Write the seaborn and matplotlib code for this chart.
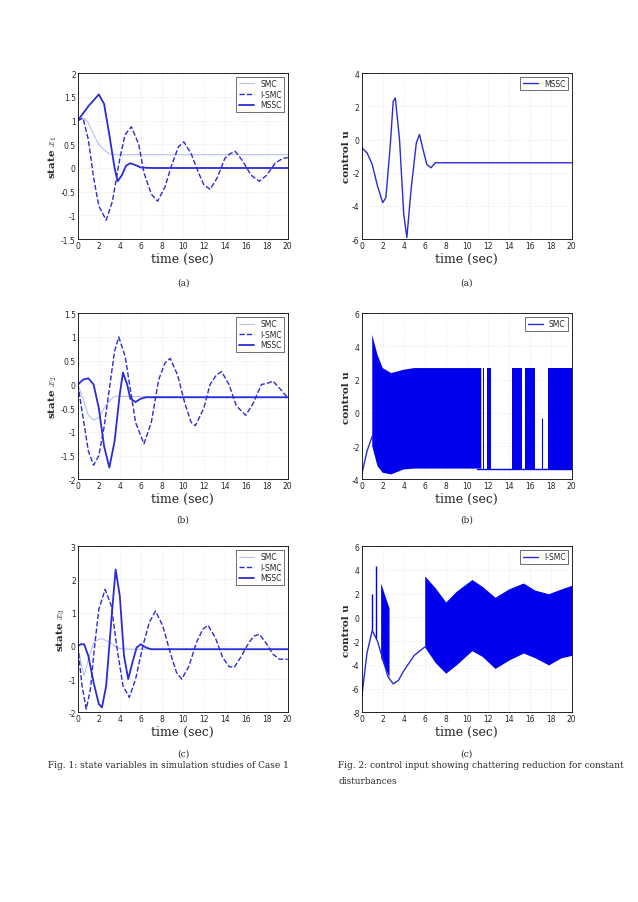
import numpy as np
import matplotlib
matplotlib.use("Agg")
import matplotlib.pyplot as plt
from matplotlib.ticker import FuncFormatter
import seaborn as sns

sns.set_theme(style="white")
plt.rcParams['font.family'] = ['DejaVu Sans']
plt.rcParams['mathtext.fontset'] = 'cm'

BLUE = "#2b2bd6"
LIGHT = "#b8c0ee"

# ---- state x1 ----
x1_mssc_t = [0,1,2,2.5,3,3.5,3.8,4.2,4.6,5,5.5,6,7,20]
x1_mssc_v = [1,1.3,1.55,1.35,0.7,0.0,-0.28,-0.15,0.05,0.1,0.06,0.01,0,0]
x1_ismc_t = [0,0.5,1,1.5,2,2.7,3.3,4,4.5,5.1,5.8,6.3,7,7.6,8.3,9,9.6,10.1,10.8,11.5,12,12.6,13.3,14,14.5,15,15.7,16.5,17.3,18,18.8,19.5,20]
x1_ismc_v = [1,1.05,0.6,-0.2,-0.8,-1.1,-0.7,0.2,0.7,0.87,0.5,-0.1,-0.55,-0.7,-0.4,0.1,0.45,0.55,0.3,-0.1,-0.35,-0.45,-0.2,0.2,0.3,0.35,0.15,-0.15,-0.28,-0.15,0.1,0.2,0.22]
x1_smc_t = [0,0.6,1,1.5,2,2.5,3,3.5,20]
x1_smc_v = [1,1.05,0.95,0.7,0.5,0.38,0.3,0.28,0.28]

# ---- state x2 ----
x2_mssc_t = [0,0.5,1,1.5,2,2.5,3,3.5,4,4.3,4.7,5,5.5,6,6.5,20]
x2_mssc_v = [0,0.1,0.13,0,-0.5,-1.3,-1.75,-1.2,-0.2,0.25,0,-0.3,-0.37,-0.3,-0.27,-0.27]
x2_ismc_t = [0,0.5,1,1.5,2,2.5,3,3.5,3.9,4.5,5,5.5,6.3,7,7.7,8.3,8.8,9.5,10.2,10.8,11.2,12,12.6,13.2,13.7,14.4,15.1,16,16.7,17.5,18,18.6,19.3,20]
x2_ismc_v = [0,-0.7,-1.4,-1.7,-1.5,-0.9,-0.1,0.7,1.0,0.6,-0.1,-0.8,-1.25,-0.8,0.1,0.45,0.55,0.2,-0.4,-0.8,-0.87,-0.5,0,0.2,0.27,0.0,-0.45,-0.65,-0.4,0,0.02,0.07,-0.1,-0.28]
x2_smc_t = [0,0.5,1,1.5,2,2.5,3,3.5,4,20]
x2_smc_v = [0,-0.3,-0.65,-0.75,-0.7,-0.5,-0.35,-0.25,-0.25,-0.27]

# ---- state x3 ----
x3_mssc_t = [0,0.3,0.6,1,1.5,2,2.3,2.7,3.2,3.6,4,4.4,4.8,5.2,5.6,6,6.5,7,20]
x3_mssc_v = [0,0.05,0.05,-0.3,-1.1,-1.75,-1.85,-1.2,0.8,2.3,1.5,-0.3,-1.0,-0.5,-0.05,0.05,-0.05,-0.1,-0.1]
x3_ismc_t = [0,0.4,0.8,1.2,1.6,2,2.6,3.2,3.7,4.3,4.9,5.5,6.2,6.8,7.4,8.1,8.8,9.4,9.9,10.6,11.3,11.9,12.4,13.1,13.8,14.4,14.9,15.6,16.3,16.8,17.3,17.9,18.6,19.2,20]
x3_ismc_v = [0,-1.2,-1.9,-1.3,0,1.1,1.7,1.2,0,-1.2,-1.55,-1.0,0,0.7,1.05,0.6,-0.2,-0.8,-1.0,-0.6,0.1,0.5,0.62,0.25,-0.35,-0.62,-0.65,-0.3,0.1,0.3,0.35,0.1,-0.25,-0.4,-0.4]
x3_smc_t = [0,0.3,0.6,1,1.5,2,2.3,3,3.5,4,5,20]
x3_smc_v = [0,-0.5,-0.9,-0.4,0.1,0.2,0.22,0.12,0.0,-0.08,-0.1,-0.1]

# ---- control MSSC ----
u_mssc_t = [0,0.5,1,1.5,2,2.3,2.7,3,3.2,3.6,4,4.3,4.7,5.2,5.5,5.8,6.2,6.6,7,20]
u_mssc_v = [-0.5,-0.8,-1.5,-2.8,-3.8,-3.5,-0.5,2.3,2.5,0,-4.5,-5.9,-3,-0.2,0.3,-0.5,-1.5,-1.7,-1.4,-1.4]

# ---- control SMC (chattering envelope) ----
u_smc_pre_t = [0,0.5,1]
u_smc_pre_v = [-3.7,-2.3,-1.4]
u_smc_env_t = [1,1.5,2,2.8,4,5,20]
u_smc_up = [4.7,3.5,2.7,2.4,2.6,2.7,2.7]
u_smc_lo = [-2.0,-3.2,-3.6,-3.7,-3.4,-3.35,-3.35]
u_smc_on = [(1,11.4),(11.5,11.7),(11.9,12.3),(14.3,15.3),(15.6,16.5),(17.7,20)]
u_smc_spike = (17.2, -0.3)

# ---- control I-SMC ----
u_ismc_base_t = [0,0.5,1,1.5,2,2.5,3,3.5,4,5,6]
u_ismc_base_v = [-6.7,-3,-1.1,-2,-3.5,-5,-5.6,-5.3,-4.5,-3.2,-2.5]
u_ismc_spikes = [(1.0,2.0),(1.35,4.3)]
u_ismc_b1_t = [1.8,2.6]
u_ismc_b1_up = [2.9,0.8]
u_ismc_b1_lo = [-3.4,-5.0]
u_ismc_env_t = [6,7,8,9,10.5,11.5,12.7,14,15.4,16.5,17.8,19,20]
u_ismc_up = [3.5,2.5,1.3,2.2,3.2,2.6,1.7,2.4,2.9,2.3,2.0,2.4,2.7]
u_ismc_lo = [-2.5,-3.8,-4.7,-4.0,-2.8,-3.3,-4.3,-3.6,-3.0,-3.4,-4.0,-3.4,-3.2]

fig = plt.figure(figsize=(6.38, 9.03), dpi=100)
W, H = 0.329, 0.184
lefts = [0.122, 0.567]
bottoms = [0.734, 0.468, 0.210]
axes = [[fig.add_axes([l, b, W, H]) for l in lefts] for b in bottoms]
fmt = FuncFormatter(lambda v, p: '%g' % v)

def style(ax, ylim, yticks, ylabel):
    ax.set_xlim(0, 20); ax.set_ylim(*ylim)
    ax.set_xticks(range(0, 21, 2)); ax.set_yticks(yticks)
    ax.yaxis.set_major_formatter(fmt)
    ax.tick_params(labelsize=5.5, length=2, direction='in', pad=1.5)
    ax.grid(True, linestyle=':', color='#dddddd', linewidth=0.5)
    for s in ax.spines.values():
        s.set_linewidth(0.6); s.set_color('black')
    ax.set_xlabel('time (sec)', family='serif', fontsize=9, labelpad=1)
    ax.set_ylabel(ylabel, family='serif', fontsize=7.5, fontweight='bold', labelpad=1)

def states(ax, mt, mv, it, iv, st, sv):
    sns.lineplot(x=st, y=sv, ax=ax, color=LIGHT, lw=0.8, label='SMC', sort=False)
    sns.lineplot(x=it, y=iv, ax=ax, color=BLUE, lw=1.0, ls='--', label='I-SMC', sort=False)
    sns.lineplot(x=mt, y=mv, ax=ax, color=BLUE, lw=1.3, label='MSSC', sort=False)
    ax.legend(loc='upper right', fontsize=5.5, frameon=True, fancybox=False,
              edgecolor='black', handlelength=2, borderpad=0.3, labelspacing=0.2).get_frame().set_linewidth(0.5)

states(axes[0][0], x1_mssc_t, x1_mssc_v, x1_ismc_t, x1_ismc_v, x1_smc_t, x1_smc_v)
style(axes[0][0], (-1.5, 2), np.arange(-1.5, 2.01, 0.5), 'state $x_1$')
states(axes[1][0], x2_mssc_t, x2_mssc_v, x2_ismc_t, x2_ismc_v, x2_smc_t, x2_smc_v)
style(axes[1][0], (-2, 1.5), np.arange(-2, 1.51, 0.5), 'state $x_2$')
states(axes[2][0], x3_mssc_t, x3_mssc_v, x3_ismc_t, x3_ismc_v, x3_smc_t, x3_smc_v)
style(axes[2][0], (-2, 3), range(-2, 4), 'state $x_3$')

def leg(ax):
    ax.legend(loc='upper right', fontsize=5.5, frameon=True, fancybox=False,
              edgecolor='black', handlelength=2, borderpad=0.3).get_frame().set_linewidth(0.5)

ax = axes[0][1]
sns.lineplot(x=u_mssc_t, y=u_mssc_v, ax=ax, color=BLUE, lw=1.0, label='MSSC', sort=False)
leg(ax); style(ax, (-6, 4), range(-6, 5, 2), 'control u')

ax = axes[1][1]
sns.lineplot(x=u_smc_pre_t, y=u_smc_pre_v, ax=ax, color=BLUE, lw=1.0, label='SMC', sort=False)
tt = np.array(u_smc_env_t, float)
dense = np.linspace(1, 20, 800)
up = np.interp(dense, tt, u_smc_up); lo = np.interp(dense, tt, u_smc_lo)
on = np.zeros_like(dense, bool)
for a, b in u_smc_on:
    on |= (dense >= a) & (dense <= b)
ax.fill_between(dense, lo, up, where=on, color='#0000ee', lw=0)
ax.plot(dense[dense > 11], lo[dense > 11], color='#0000ee', lw=1.0)
ax.vlines([u_smc_spike[0]], u_smc_lo[-1], u_smc_spike[1], color='#0000ee', lw=0.8)
leg(ax); style(ax, (-4, 6), range(-4, 7, 2), 'control u')

ax = axes[2][1]
sns.lineplot(x=u_ismc_base_t, y=u_ismc_base_v, ax=ax, color=BLUE, lw=1.0, label='I-SMC', sort=False)
for t0, v in u_ismc_spikes:
    ax.vlines([t0], np.interp(t0, u_ismc_base_t, u_ismc_base_v), v, color='#0000ee', lw=1.0)
ax.fill_between(u_ismc_b1_t, u_ismc_b1_lo, u_ismc_b1_up, color='#0000ee', lw=0)
ax.fill_between(u_ismc_env_t, u_ismc_lo, u_ismc_up, color='#0000ee', lw=0)
leg(ax); style(ax, (-8, 6), range(-8, 7, 2), 'control u')

for i, lab in enumerate(['(a)', '(b)', '(c)']):
    ypos = [0.684, 0.421, 0.162][i]
    for x in [0.287, 0.731]:
        fig.text(x, ypos, lab, ha='center', fontsize=6.5, family='serif')

cap = dict(fontsize=6.4, family='serif', va='top')
fig.text(0.075, 0.157, 'Fig. 1: state variables in simulation studies of Case 1', **cap)
fig.text(0.530, 0.157, 'Fig. 2: control input showing chattering reduction for constant', **cap)
fig.text(0.530, 0.139, 'disturbances', **cap)

fig.savefig('out.png', dpi=100)
